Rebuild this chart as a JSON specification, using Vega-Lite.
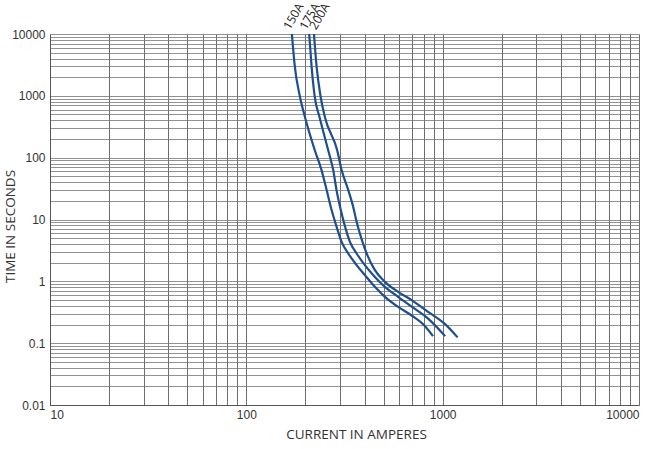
{
  "$schema": "https://vega.github.io/schema/vega-lite/v6.json",
  "width": 589,
  "height": 371,
  "autosize": {"type": "none"},
  "padding": {"left": 50, "top": 34, "right": 11, "bottom": 44},
  "background": "white",
  "config": {
    "view": {"stroke": null},
    "axis": {"labelFont": "Liberation Sans", "labelFontSize": 12, "labelColor": "#333", "titleFont": "Open Sans", "titleFontSize": 13.5, "titleFontWeight": "normal", "titleColor": "#333", "ticks": false, "labelOverlap": false, "labelBound": false}
  },
  "datasets": {
    "curves": [
      {"rating": "150A", "amps": 170.6, "secs": 10000},
      {"rating": "150A", "amps": 176.6, "secs": 2960},
      {"rating": "150A", "amps": 187.5, "secs": 968},
      {"rating": "150A", "amps": 198.7, "secs": 459},
      {"rating": "150A", "amps": 223, "secs": 133},
      {"rating": "150A", "amps": 241.5, "secs": 63},
      {"rating": "150A", "amps": 256.5, "secs": 29.9},
      {"rating": "150A", "amps": 271.8, "secs": 14.2},
      {"rating": "150A", "amps": 288.3, "secs": 7.62},
      {"rating": "150A", "amps": 305.7, "secs": 4.36},
      {"rating": "150A", "amps": 330.5, "secs": 2.82},
      {"rating": "150A", "amps": 364.5, "secs": 1.83},
      {"rating": "150A", "amps": 401.5, "secs": 1.26},
      {"rating": "150A", "amps": 451.7, "secs": 0.815},
      {"rating": "150A", "amps": 508, "secs": 0.561},
      {"rating": "150A", "amps": 593, "secs": 0.386},
      {"rating": "150A", "amps": 695, "secs": 0.28},
      {"rating": "150A", "amps": 811, "secs": 0.19},
      {"rating": "150A", "amps": 893, "secs": 0.13},
      {"rating": "175A", "amps": 209, "secs": 10000},
      {"rating": "175A", "amps": 215, "secs": 2960},
      {"rating": "175A", "amps": 223, "secs": 968},
      {"rating": "175A", "amps": 237, "secs": 430},
      {"rating": "175A", "amps": 261, "secs": 133},
      {"rating": "175A", "amps": 277, "secs": 63},
      {"rating": "175A", "amps": 288, "secs": 29.9},
      {"rating": "175A", "amps": 300, "secs": 16.1},
      {"rating": "175A", "amps": 315, "secs": 8.65},
      {"rating": "175A", "amps": 337, "secs": 4.36},
      {"rating": "175A", "amps": 364.5, "secs": 2.82},
      {"rating": "175A", "amps": 401.5, "secs": 1.83},
      {"rating": "175A", "amps": 451.7, "secs": 1.18},
      {"rating": "175A", "amps": 508, "secs": 0.815},
      {"rating": "175A", "amps": 593, "secs": 0.561},
      {"rating": "175A", "amps": 695, "secs": 0.39},
      {"rating": "175A", "amps": 843, "secs": 0.25},
      {"rating": "175A", "amps": 1030, "secs": 0.13},
      {"rating": "200A", "amps": 221, "secs": 10000},
      {"rating": "200A", "amps": 228, "secs": 2960},
      {"rating": "200A", "amps": 239, "secs": 968},
      {"rating": "200A", "amps": 251, "secs": 459},
      {"rating": "200A", "amps": 290, "secs": 133},
      {"rating": "200A", "amps": 305.7, "secs": 63},
      {"rating": "200A", "amps": 330.5, "secs": 29.9},
      {"rating": "200A", "amps": 350, "secs": 16.1},
      {"rating": "200A", "amps": 364.5, "secs": 9.18},
      {"rating": "200A", "amps": 383, "secs": 5.25},
      {"rating": "200A", "amps": 410, "secs": 2.82},
      {"rating": "200A", "amps": 451.7, "secs": 1.52},
      {"rating": "200A", "amps": 508, "secs": 0.98},
      {"rating": "200A", "amps": 593, "secs": 0.676},
      {"rating": "200A", "amps": 695, "secs": 0.497},
      {"rating": "200A", "amps": 843, "secs": 0.321},
      {"rating": "200A", "amps": 1026, "secs": 0.205},
      {"rating": "200A", "amps": 1191, "secs": 0.124}
    ],
    "labels": [
      {"rating": "150A", "amps": 163, "secs": 10000},
      {"rating": "175A", "amps": 197, "secs": 10000},
      {"rating": "200A", "amps": 221, "secs": 10000}
    ]
  },
  "layer": [
    {
      "data": {"name": "curves"},
      "mark": {"type": "line", "interpolate": "monotone", "color": "#1d4e8f", "strokeWidth": 2.2, "clip": true},
      "encoding": {
        "x": {"field": "amps", "type": "quantitative",
          "scale": {"type": "log", "domain": [10, 10000], "nice": false},
          "axis": {
            "title": "CURRENT IN AMPERES",
            "titlePadding": 7,
            "titleX": 306,
            "titleAlign": "center",
            "values": [10,20,30,40,50,60,70,80,90,100,200,300,400,500,600,700,800,900,1000,2000,3000,4000,5000,6000,7000,8000,9000,10000],
            "labelExpr": "abs(log(datum.value)/LN10 - round(log(datum.value)/LN10)) < 0.000001 ? format(datum.value, 'd') : ''",
            "labelFlush": true,
            "labelPadding": 4,
            "grid": true, "gridColor": "#555", "gridWidth": 1, "gridOpacity": 0.85,
            "domainColor": "#555"
          }
        },
        "y": {"field": "secs", "type": "quantitative",
          "scale": {"type": "log", "domain": [0.01, 10000], "nice": false},
          "axis": {
            "title": "TIME IN SECONDS",
            "titleX": -40,
            "titleY": 192,
            "titleAngle": -90,
            "titleAlign": "center",
            "titleBaseline": "middle",
            "values": [0.01,0.02,0.03,0.04,0.05,0.06,0.07,0.08,0.09,0.1,0.2,0.3,0.4,0.5,0.6,0.7,0.8,0.9,1,2,3,4,5,6,7,8,9,10,20,30,40,50,60,70,80,90,100,200,300,400,500,600,700,800,900,1000,2000,3000,4000,5000,6000,7000,8000,9000,10000],
            "labelExpr": "abs(log(datum.value)/LN10 - round(log(datum.value)/LN10)) < 0.000001 ? format(datum.value, '~g') : ''",
            "labelFlush": false,
            "labelPadding": 5,
            "grid": true, "gridColor": "#777", "gridWidth": 1, "gridOpacity": 0.8,
            "domainColor": "#555"
          }
        },
        "detail": {"field": "rating"}
      }
    },
    {
      "data": {"name": "labels"},
      "mark": {"type": "text", "angle": 300, "align": "left", "baseline": "alphabetic", "dx": 4, "dy": 0, "font": "Open Sans", "fontSize": 12, "color": "#222"},
      "encoding": {
        "x": {"field": "amps", "type": "quantitative"},
        "y": {"field": "secs", "type": "quantitative"},
        "text": {"field": "rating"}
      }
    }
  ]
}
